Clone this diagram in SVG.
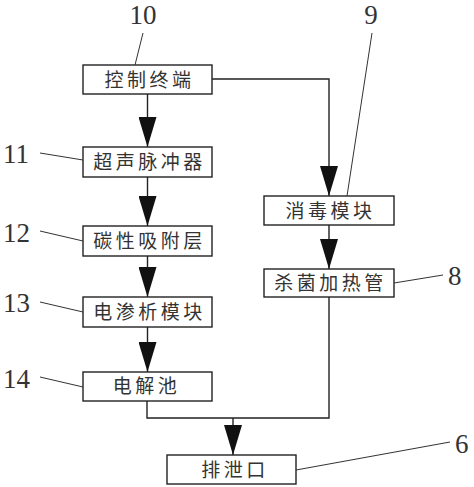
<svg xmlns="http://www.w3.org/2000/svg" width="474" height="487" viewBox="0 0 474 487">
<defs>
<style>
.box{fill:#fff;stroke:#222;stroke-width:1.4}
.t{font-family:"Noto Sans CJK SC","Noto Sans",sans-serif;font-size:19px;fill:#333;text-anchor:middle;letter-spacing:3.5px}
.num{font-family:"Liberation Serif","Times New Roman",serif;font-size:27px;fill:#333}
.ln{fill:none;stroke:#222;stroke-width:1.4}
.ld{fill:none;stroke:#333;stroke-width:1}
</style>
<marker id="ah" markerUnits="userSpaceOnUse" viewBox="0 -9 30 18" refX="30" refY="0" markerWidth="30" markerHeight="18" orient="auto">
<path d="M0,-9 L30,0 L0,9 z" fill="#111"/>
</marker>
</defs>
<rect width="474" height="487" fill="#fff"/>
<g id="connectors">
<path class="ln" d="M147.5,94 V147" marker-end="url(#ah)"/>
<path class="ln" d="M147.5,177 V226" marker-end="url(#ah)"/>
<path class="ln" d="M147.5,256 V297" marker-end="url(#ah)"/>
<path class="ln" d="M147.5,327 V372" marker-end="url(#ah)"/>
<path class="ln" d="M212,79 H329 V196" marker-end="url(#ah)"/>
<path class="ln" d="M329,225 V269" marker-end="url(#ah)"/>
<path class="ln" d="M147,401 V418 H329 V297"/>
<path class="ln" d="M233,418 V455" marker-end="url(#ah)"/>
</g>
<g id="n10">
<rect class="box" x="83" y="65" width="129" height="29"/>
<text class="t" x="149.5" y="87">控制终端</text>
</g>
<g id="n11">
<rect class="box" x="83" y="147" width="129" height="30"/>
<text class="t" x="149.5" y="169">超声脉冲器</text>
</g>
<g id="n12">
<rect class="box" x="83" y="226" width="129" height="30"/>
<text class="t" x="149.5" y="248">碳性吸附层</text>
</g>
<g id="n13">
<rect class="box" x="83" y="297" width="129" height="30"/>
<text class="t" x="149.5" y="319">电渗析模块</text>
</g>
<g id="n14">
<rect class="box" x="83" y="372" width="129" height="29"/>
<text class="t" x="146.5" y="393">电解池</text>
</g>
<g id="n9">
<rect class="box" x="264" y="196" width="130" height="29"/>
<text class="t" x="330.5" y="218">消毒模块</text>
</g>
<g id="n8">
<rect class="box" x="264" y="269" width="130" height="28"/>
<text class="t" x="330.5" y="290">杀菌加热管</text>
</g>
<g id="n6">
<rect class="box" x="167" y="455" width="129" height="29"/>
<text class="t" x="235" y="477">排泄口</text>
</g>
<g id="labels">
<text class="num" x="143" y="24" text-anchor="middle">10</text>
<line class="ld" x1="143" y1="33" x2="135" y2="65"/>
<text class="num" x="371" y="24" text-anchor="middle">9</text>
<line class="ld" x1="372" y1="33" x2="347" y2="196"/>
<text class="num" x="3" y="163">11</text>
<line class="ld" x1="40" y1="153" x2="83" y2="160"/>
<text class="num" x="3" y="242">12</text>
<line class="ld" x1="40" y1="231" x2="83" y2="241"/>
<text class="num" x="3" y="312">13</text>
<line class="ld" x1="40" y1="302" x2="83" y2="312"/>
<text class="num" x="3" y="388">14</text>
<line class="ld" x1="40" y1="377" x2="83" y2="387"/>
<text class="num" x="448" y="285">8</text>
<line class="ld" x1="394" y1="283" x2="443" y2="275"/>
<text class="num" x="455" y="453">6</text>
<line class="ld" x1="296" y1="470" x2="450" y2="442"/>
</g>
</svg>
